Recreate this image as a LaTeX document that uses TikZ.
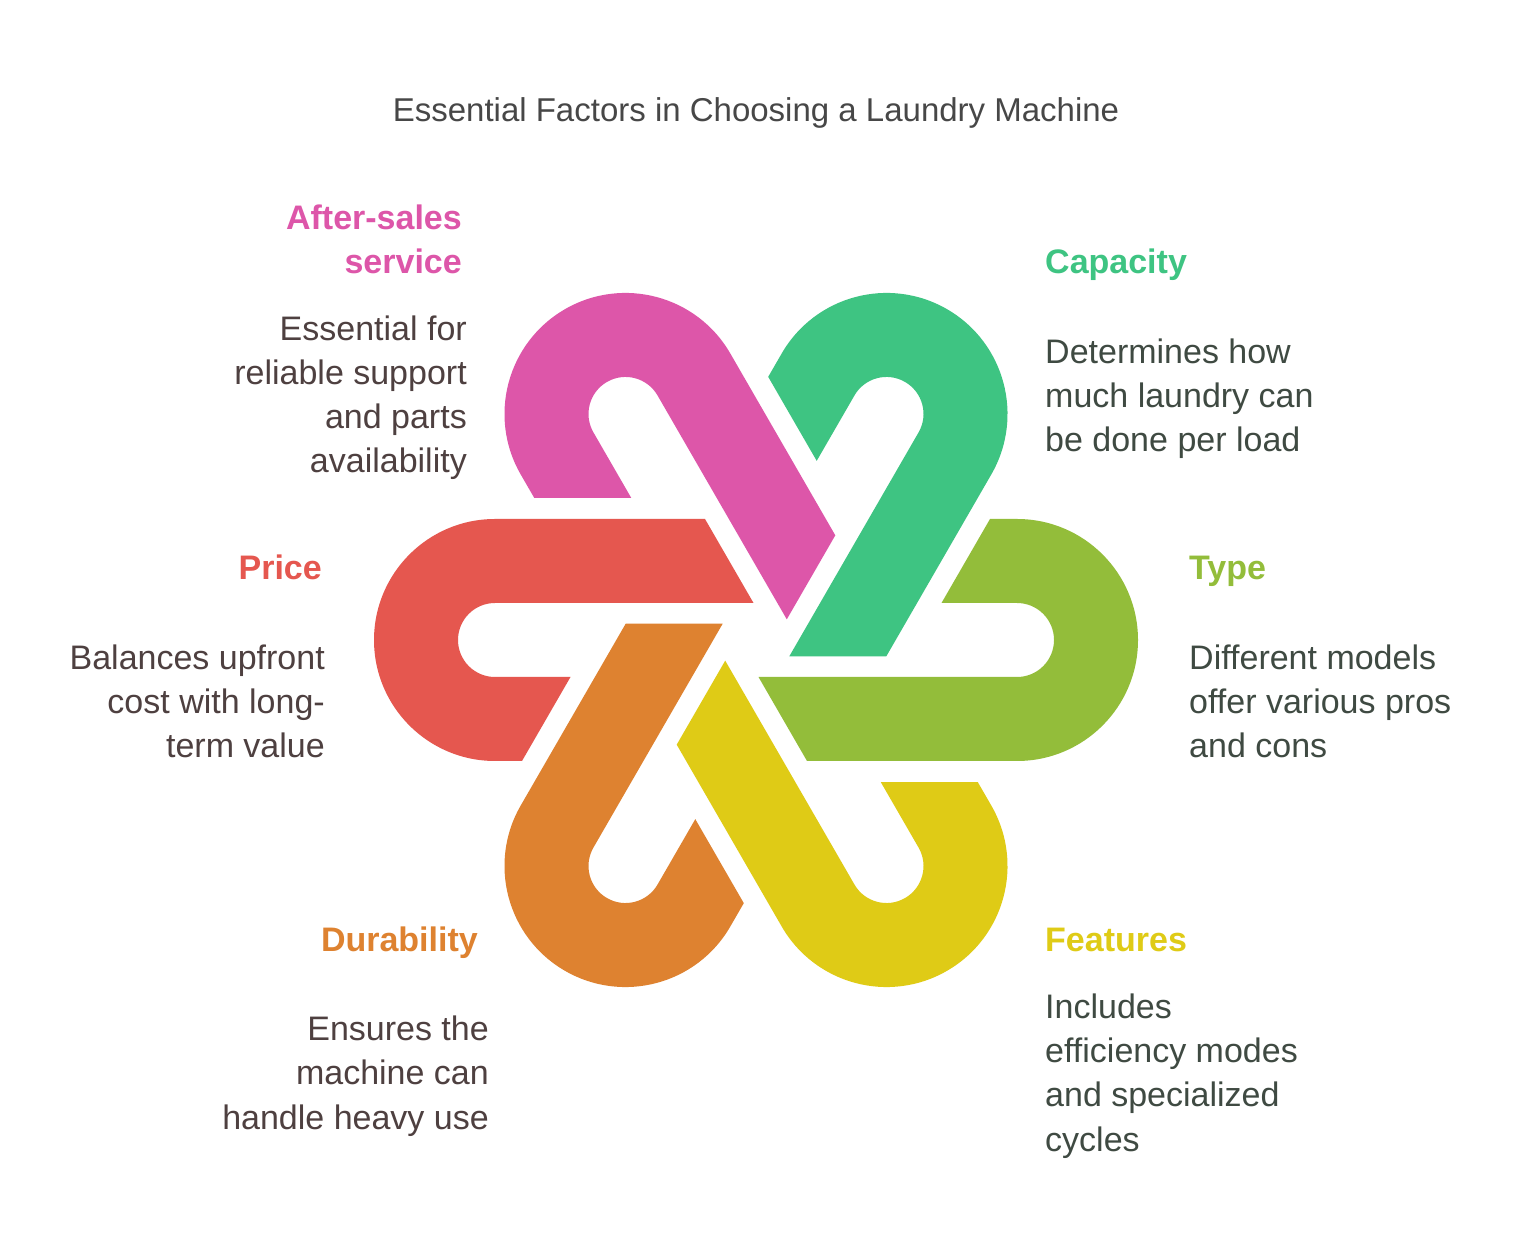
\documentclass[tikz,border=0pt]{standalone}
\usepackage{fontspec}
\setmainfont{Liberation Sans}
\definecolor{cred}{HTML}{E5574F}
\definecolor{cpink}{HTML}{DD56A9}
\definecolor{cgreen}{HTML}{3EC482}
\definecolor{clime}{HTML}{93BD3A}
\definecolor{cyellow}{HTML}{DFCB16}
\definecolor{corange}{HTML}{DE8230}
\definecolor{ltxt}{HTML}{4E4040}
\definecolor{rtxt}{HTML}{3F4A42}
\begin{document}
\begin{tikzpicture}[x=1pt,y=1pt,
  body/.style={font=\fontsize{34}{44}\selectfont,inner sep=0pt},
  head/.style={font=\fontsize{34}{44}\selectfont\bfseries,inner sep=0pt}]
\useasboundingbox[fill=white] (0,0) rectangle (1536,1250);
\foreach \k/\c in {0/cred,1/cpink,2/cgreen,3/clime,4/cyellow,5/corange}{
  \begin{scope}[rotate around={-60*\k:(756,610)}]
  \fill[\c] (705,731) -- (495,731) arc[start angle=90,end angle=270,radius=121]
     -- (522,489) -- (570.5,573) -- (495,573) arc[start angle=270,end angle=90,radius=37]
     -- (753.5,647) -- cycle;
  \end{scope}
}
\node[font=\fontsize{33}{40}\selectfont,text=black!72,anchor=base] (title) at (756,1128) {Essential Factors in Choosing a Laundry Machine};
% After-sales
\node[head,text=cpink,anchor=base east] (a1) at (462,1020) {After-sales};
\node[head,text=cpink,anchor=base east] (a2) at (462,976) {service};
\node[body,text=ltxt,anchor=base east] (a3) at (467,909) {Essential for};
\node[body,text=ltxt,anchor=base east] (a4) at (467,865) {reliable support};
\node[body,text=ltxt,anchor=base east] (a5) at (467,821) {and parts};
\node[body,text=ltxt,anchor=base east] (a6) at (467,777) {availability};
% Capacity
\node[head,text=cgreen,anchor=base west] (c1) at (1045,976) {Capacity};
\node[body,text=rtxt,anchor=base west] (c2) at (1045,886) {Determines how};
\node[body,text=rtxt,anchor=base west] (c3) at (1045,842) {much laundry can};
\node[body,text=rtxt,anchor=base west] (c4) at (1045,798) {be done per load};
% Price
\node[head,text=cred,anchor=base east] (p1) at (322,670) {Price};
\node[body,text=ltxt,anchor=base east] (p2) at (325,580) {Balances upfront};
\node[body,text=ltxt,anchor=base east] (p3) at (325,536) {cost with long-};
\node[body,text=ltxt,anchor=base east] (p4) at (325,492) {term value};
% Type
\node[head,text=clime,anchor=base west] (t1) at (1189,670) {Type};
\node[body,text=rtxt,anchor=base west] (t2) at (1189,580) {Different models};
\node[body,text=rtxt,anchor=base west] (t3) at (1189,536) {offer various pros};
\node[body,text=rtxt,anchor=base west] (t4) at (1189,492) {and cons};
% Durability
\node[head,text=corange,anchor=base east] (d1) at (478,298) {Durability};
\node[body,text=ltxt,anchor=base east] (d2) at (489,209) {Ensures the};
\node[body,text=ltxt,anchor=base east] (d3) at (489,165) {machine can};
\node[body,text=ltxt,anchor=base east] (d4) at (489,121) {handle heavy use};
% Features
\node[head,text=cyellow,anchor=base west] (f1) at (1045,298) {Features};
\node[body,text=rtxt,anchor=base west] (f2) at (1045,231) {Includes};
\node[body,text=rtxt,anchor=base west] (f3) at (1045,187) {efficiency modes};
\node[body,text=rtxt,anchor=base west] (f4) at (1045,143) {and specialized};
\node[body,text=rtxt,anchor=base west] (f5) at (1045,99) {cycles};
\end{tikzpicture}
\end{document}
